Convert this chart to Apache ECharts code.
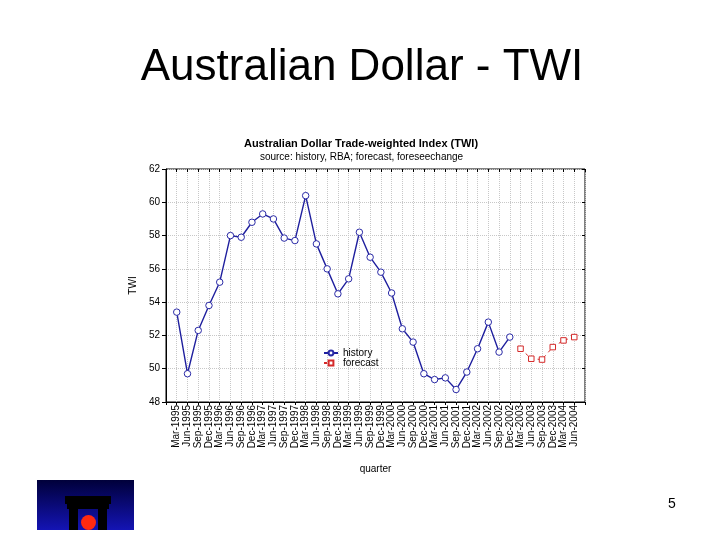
<!DOCTYPE html>
<html>
<head>
<meta charset="utf-8">
<script src="https://cdn.jsdelivr.net/npm/echarts@6/dist/echarts.min.js"></script>
<style>html,body{margin:0;padding:0;background:#fff;}#c{width:720px;height:540px;}</style>
</head>
<body>
<div id="c"></div>
<script>
var quarters = ['Mar-1995','Jun-1995','Sep-1995','Dec-1995','Mar-1996','Jun-1996','Sep-1996','Dec-1996',
  'Mar-1997','Jun-1997','Sep-1997','Dec-1997','Mar-1998','Jun-1998','Sep-1998','Dec-1998',
  'Mar-1999','Jun-1999','Sep-1999','Dec-1999','Mar-2000','Jun-2000','Sep-2000','Dec-2000',
  'Mar-2001','Jun-2001','Sep-2001','Dec-2001','Mar-2002','Jun-2002','Sep-2002','Dec-2002',
  'Mar-2003','Jun-2003','Sep-2003','Dec-2003','Mar-2004','Jun-2004'];
var historyValues = [53.4,49.7,52.3,53.8,55.2,58.0,57.9,58.8,59.3,59.0,57.85,57.7,60.4,57.5,56.0,54.5,
  55.4,58.2,56.7,55.8,54.55,52.4,51.6,49.7,49.35,49.45,48.75,49.8,51.2,52.8,51.0,51.9];
var forecastValues = [51.2,50.6,50.55,51.3,51.7,51.9];
var yTicks = [48,50,52,54,56,58,60,62];

var axisCats = [''].concat(quarters).concat(['']);
var histData = [null].concat(historyValues);
while (histData.length < axisCats.length) histData.push(null);
var fcData = [null];
for (var i = 0; i < historyValues.length; i++) fcData.push(null);
fcData = fcData.concat(forecastValues);
fcData.push(null);

var FONT = 'Liberation Sans';
var chart = echarts.init(document.getElementById('c'));
chart.setOption({
  animation: false,
  textStyle: {fontFamily: FONT},
  grid: {left: 166, right: 135, top: 169, bottom: 138, show: true, borderColor: '#000', borderWidth: 1},
  legend: {
    orient: 'vertical', left: 318, top: 343, itemWidth: 14, itemHeight: 6, itemGap: 0,
    textStyle: {fontSize: 10, color: '#000', fontFamily: FONT},
    data: ['history','forecast']
  },
  xAxis: [{
    type: 'category', data: axisCats, boundaryGap: false,
    name: 'quarter', nameLocation: 'middle', nameGap: 62,
    nameTextStyle: {fontSize: 10, color: '#000', fontFamily: FONT},
    axisLine: {lineStyle: {color: '#000', width: 1}},
    axisTick: {show: true, interval: 0, length: 3, lineStyle: {color: '#000'}},
    axisLabel: {interval: 0, rotate: 90, fontSize: 10, color: '#000', margin: 3, fontFamily: FONT},
    splitLine: {show: true, interval: 0, lineStyle: {color: '#c8c8c8', type: 'dotted', width: 1}}
  }, {
    type: 'category', data: axisCats, boundaryGap: false, position: 'top',
    axisLine: {show: false}, axisLabel: {show: false}, splitLine: {show: false},
    axisTick: {show: true, inside: true, interval: 0, length: 3, lineStyle: {color: '#000'}}
  }],
  yAxis: [{
    type: 'value', min: 48, max: 62, interval: 2,
    name: 'TWI', nameLocation: 'middle', nameGap: 25,
    nameTextStyle: {fontSize: 10, color: '#000', fontFamily: FONT},
    axisLine: {show: true, lineStyle: {color: '#000'}},
    axisTick: {show: true, length: 4, lineStyle: {color: '#000'}},
    axisLabel: {fontSize: 10, color: '#000', margin: 6, fontFamily: FONT,
      formatter: function (v) { return yTicks.indexOf(v) >= 0 ? String(v) : ''; }},
    splitLine: {show: true, lineStyle: {color: '#c8c8c8', type: 'dotted', width: 1}}
  }, {
    type: 'value', min: 48, max: 62, interval: 2, position: 'right',
    axisLine: {show: false}, axisLabel: {show: false}, splitLine: {show: false},
    axisTick: {show: true, inside: true, length: 3, lineStyle: {color: '#000'}}
  }],
  series: [{
    name: 'history', type: 'line', data: histData, connectNulls: false,
    symbol: 'circle', symbolSize: 6.5,
    lineStyle: {color: '#1f1f9e', width: 1.4},
    itemStyle: {color: '#ffffff', borderColor: '#2a2aa6', borderWidth: 1}
  }, {
    name: 'forecast', type: 'line', data: fcData,
    symbol: 'rect', symbolSize: 5.5,
    lineStyle: {color: '#d42a2a', width: 1, type: [3, 4]},
    itemStyle: {color: '#ffffff', borderColor: '#d42a2a', borderWidth: 1}
  }],
  graphic: [
    {type: 'text', x: 362, y: 67.5, style: {text: 'Australian Dollar - TWI', fontSize: 44, fontFamily: FONT, fill: '#000', align: 'center', verticalAlign: 'middle'}},
    {type: 'text', x: 361, y: 144, style: {text: 'Australian Dollar Trade-weighted Index (TWI)', fontSize: 11, fontWeight: 'bold', fontFamily: FONT, fill: '#000', align: 'center', verticalAlign: 'middle'}},
    {type: 'text', x: 361.5, y: 157, style: {text: 'source: history, RBA; forecast, foreseechange', fontSize: 10, fontFamily: FONT, fill: '#000', align: 'center', verticalAlign: 'middle'}},
    {type: 'text', x: 672, y: 504, style: {text: '5', fontSize: 14, fontFamily: FONT, fill: '#000', align: 'center', verticalAlign: 'middle'}},
    {type: 'rect', shape: {x: 37, y: 480, width: 97, height: 50},
      style: {fill: new echarts.graphic.LinearGradient(0, 0, 0, 1, [{offset: 0, color: '#00003a'}, {offset: 1, color: '#1414b4'}])}},
    {type: 'rect', shape: {x: 65, y: 496, width: 46, height: 8}, style: {fill: '#000'}},
    {type: 'rect', shape: {x: 67, y: 503, width: 42, height: 6}, style: {fill: '#000'}},
    {type: 'rect', shape: {x: 69, y: 503, width: 9, height: 27}, style: {fill: '#000'}},
    {type: 'rect', shape: {x: 98, y: 503, width: 9, height: 27}, style: {fill: '#000'}},
    {type: 'circle', shape: {cx: 88.5, cy: 522.5, r: 7.5}, style: {fill: '#ff2a10'}}
  ]
});
</script>
</body>
</html>
